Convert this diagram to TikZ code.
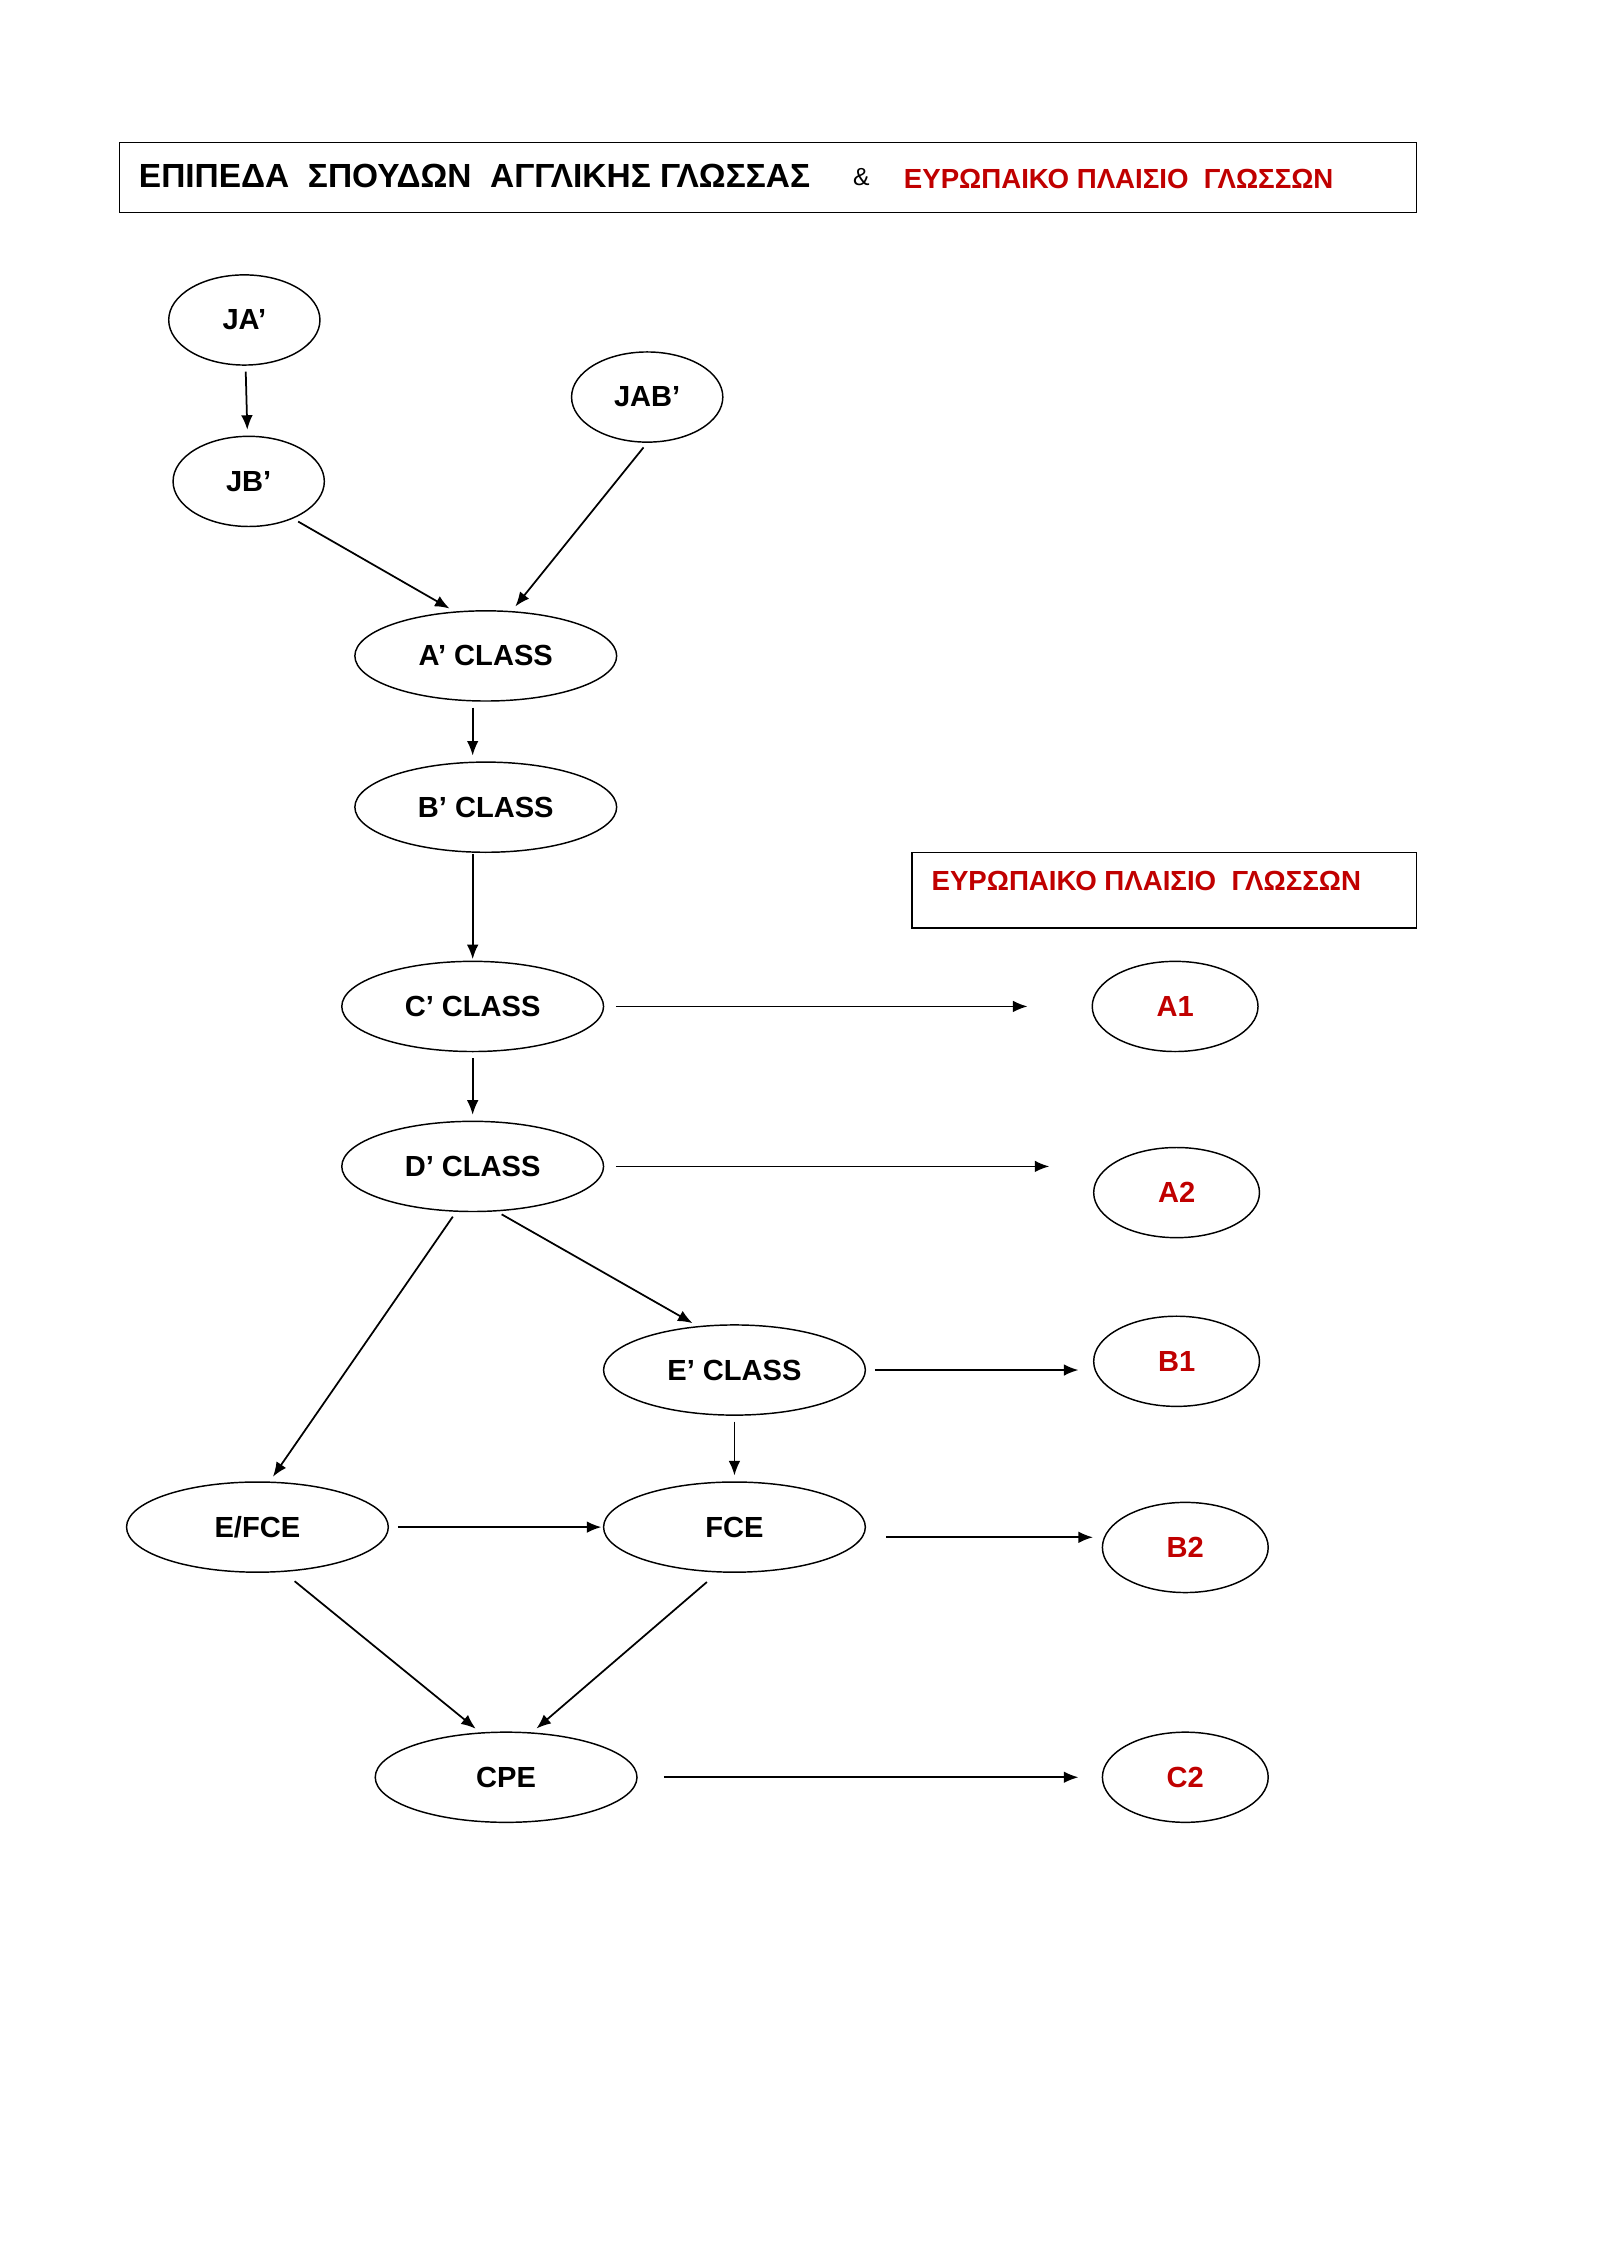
\documentclass[tikz,border=0pt]{standalone}
\usepackage{fontspec}
\setmainfont{Liberation Sans}
\usetikzlibrary{shapes.geometric,arrows.meta}
\definecolor{dred}{RGB}{192,0,0}
\begin{document}
\begin{tikzpicture}[x=1pt,y=-1pt,
  ov/.style={draw,ellipse,line width=1pt,minimum width=180pt,minimum height=62pt,inner sep=0pt,font=\bfseries\fontsize{20}{24}\selectfont},
  sm/.style={ov,minimum width=104pt},
  lv/.style={ov,minimum width=114pt,text=dred},
  ar/.style={-{Latex[length=10pt,width=8pt]},line width=1.2pt,shorten >=4pt,shorten <=4pt}]
\useasboundingbox (0,0) rectangle (1100,1556);
\node[draw,line width=1pt,minimum width=892pt,minimum height=48pt,inner sep=0pt] (title) at (528,122) {};
\node[anchor=west,font=\bfseries\fontsize{23}{26}\selectfont] (t1) at (92,121) {ΕΠΙΠΕΔΑ\ \ ΣΠΟΥΔΩΝ\ \ ΑΓΓΛΙΚΗΣ ΓΛΩΣΣΑΣ};
\node[anchor=west,font=\fontsize{17}{20}\selectfont] (t2) at (583,122) {\&};
\node[anchor=west,text=dred,font=\bfseries\fontsize{19}{22}\selectfont] (t3) at (618,123) {ΕΥΡΩΠΑΙΚΟ ΠΛΑΙΣΙΟ\ \ ΓΛΩΣΣΩΝ};
\node[draw,line width=1pt,minimum width=347pt,minimum height=52pt,inner sep=0pt] (box2) at (800.5,612) {};
\node[anchor=west,text=dred,font=\bfseries\fontsize{19}{22}\selectfont] (b2t) at (637,606) {ΕΥΡΩΠΑΙΚΟ ΠΛΑΙΣΙΟ\ \ ΓΛΩΣΣΩΝ};
\node[sm] (ja) at (168,220) {JA’};
\node[sm] (jb) at (171,331) {JB’};
\node[sm] (jab) at (445,273) {JAB’};
\node[ov] (a) at (334,451) {A’ CLASS};
\node[ov] (b) at (334,555) {B’ CLASS};
\node[ov] (c) at (325,692) {C’ CLASS};
\node[ov] (d) at (325,802) {D’ CLASS};
\node[ov] (e) at (505,942) {E’ CLASS};
\node[ov] (efce) at (177,1050) {E/FCE};
\node[ov] (fce) at (505,1050) {FCE};
\node[ov] (cpe) at (348,1222) {CPE};
\node[lv] (a1) at (808,692) {A1};
\node[lv] (a2) at (809,820) {A2};
\node[lv] (b1) at (809,936) {B1};
\node[lv] (bb2) at (815,1064) {B2};
\node[lv] (c2) at (815,1222) {C2};
\draw[ar] (ja) -- (jb);
\draw[ar] (jb.-40) -- (a.125);
\draw[ar] (jab.-90) -- (a.60);
\draw[ar] ([xshift=-9pt]a.south) -- ([xshift=-9pt]b.north);
\draw[ar,shorten <=1pt,shorten >=1pt] ([xshift=-9pt]b.south) -- (c.north);
\draw[ar] (c) -- (d);
\draw[ar,shorten <=8pt,shorten >=44pt] (c.east) -- (c.east -| a1.west);
\draw[ar,shorten <=8pt,shorten >=30pt] (d.east) -- (d.east -| a2.west);
\draw[ar] (d.-62) -- (e.130);
\draw[ar] (d.-110) -- (efce.75);
\draw[ar] (e) -- (fce);
\draw[ar,shorten <=6pt,shorten >=10pt] (e.east) -- (e.east -| b1.west);
\draw[ar,shorten <=6pt,shorten >=1pt] (efce) -- (fce);
\draw[ar,shorten <=14pt,shorten >=6pt] ([yshift=-7pt]fce.east) -- ([yshift=-7pt]fce.east -| bb2.west);
\draw[ar,shorten <=10pt] (efce.-60) -- (cpe.120);
\draw[ar,shorten <=10pt] (fce.-110) -- (cpe.60);
\draw[ar,shorten <=18pt,shorten >=16pt] (cpe) -- (c2);
\end{tikzpicture}
\end{document}
